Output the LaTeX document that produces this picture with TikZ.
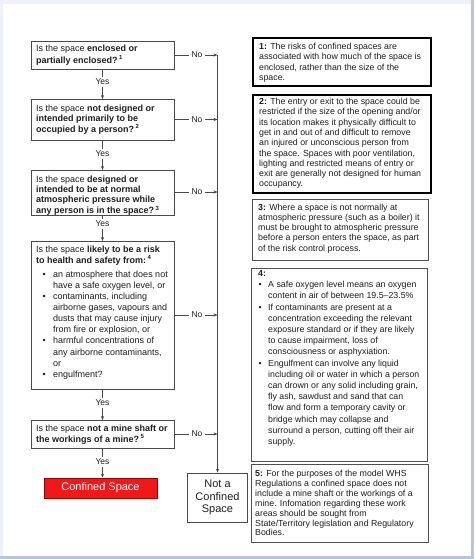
\documentclass[tikz,border=0pt]{standalone}
\usepackage{fontspec}
\setmainfont{Liberation Sans}
\usetikzlibrary{arrows.meta}
\definecolor{boxline}{HTML}{4A4A4A}
\definecolor{txt}{HTML}{1E1E1E}
\definecolor{redfill}{HTML}{F01818}
\definecolor{redline}{HTML}{9A0000}
\definecolor{topband}{HTML}{EEF1F7}
\definecolor{sideband}{HTML}{B4C6E6}
\definecolor{notegray}{HTML}{505050}
\newcommand{\qb}[1]{\textbf{#1}}
\newcommand{\bulq}{\makebox[17pt][l]{\hspace{6.5pt}\textbullet}}
\newcommand{\contq}{\hspace*{17pt}}
\newcommand{\buln}{\makebox[10pt][l]{\hspace{0.5pt}\textbullet}}
\newcommand{\contn}{\hspace*{10pt}}
\newcommand{\supn}[1]{\,\textsuperscript{\textbf{#1}}}
\begin{document}
\begin{tikzpicture}[x=1pt,y=-1pt,
  qbox/.style={draw=boxline,line width=0.8pt,inner sep=0pt,outer sep=0pt,minimum width=143pt},
  qtext/.style={anchor=base west,inner sep=0pt,text=txt,font=\fontsize{9}{10.4}\selectfont},
  nbox/.style={draw=black,line width=1.2pt,inner sep=0pt,outer sep=0pt},
  nboxb/.style={draw=notegray,line width=0.9pt,inner sep=0pt,outer sep=0pt},
  ntext/.style={anchor=base west,inner sep=0pt,text=txt,font=\fontsize{8.8}{10.3}\selectfont},
  lab/.style={inner sep=2pt,text=txt,font=\fontsize{8.5}{10}\selectfont},
  conn/.style={draw=boxline,line width=0.7pt},
  arr/.style={conn,-{Stealth[length=4pt,width=3.2pt]}},
  redbox/.style={draw=redline,line width=0.8pt,fill=redfill,text=white,inner sep=0pt,
    minimum width=113pt,minimum height=20pt,font=\fontsize{11}{13}\selectfont},
  ncbox/.style={draw=boxline,line width=0.8pt,inner sep=0pt,minimum width=60pt,minimum height=49pt,
    align=center,text=txt,font=\fontsize{11}{12.7}\selectfont}
]
\useasboundingbox (0,0) rectangle (474,559);
\fill[white] (0,0) rectangle (474,559);
\fill[topband] (0,0) rectangle (474,4);
\fill[topband] (0,0) rectangle (3,559);
\fill[sideband] (470.5,0) rectangle (474,559);
\fill[sideband] (0,556) rectangle (474,559);

% question boxes
\node[qbox,minimum height=28pt] (q1) at (102.5,55) {};
\node[qbox,minimum height=41pt] (q2) at (102.5,119.5) {};
\node[qbox,minimum height=45pt] (q3) at (102.5,192.5) {};
\node[qbox,minimum height=148pt] (q4) at (102.5,315) {};
\node[qbox,minimum height=28pt] (q5) at (102.5,434) {};

\node[qtext] (t1) at (36,52) {\begin{tabular}[t]{@{}l@{}}Is the space \qb{enclosed or}\\ \qb{partially enclosed?}\supn{1}\end{tabular}};
\node[qtext] (t2) at (36,111) {\begin{tabular}[t]{@{}l@{}}Is the space \qb{not designed or}\\ \qb{intended primarily to be}\\ \qb{occupied by a person?}\supn{2}\end{tabular}};
\node[qtext] (t3) at (36,182) {\begin{tabular}[t]{@{}l@{}}Is the space \qb{designed or}\\ \qb{intended to be at normal}\\ \qb{atmospheric pressure while}\\ \qb{any person is in the space?}\supn{3}\end{tabular}};
\node[qtext,font=\fontsize{9}{11.1}\selectfont] (t4) at (36,252) {\begin{tabular}[t]{@{}l@{}}Is the space \qb{likely to be a risk}\\ \qb{to health and safety from:}\supn{4}\\[3pt]
\bulq an atmosphere that does not\\ \contq have a safe oxygen level, or\\
\bulq contaminants, including\\ \contq airborne gases, vapours and\\ \contq dusts that may cause injury\\ \contq from fire or explosion, or\\
\bulq harmful concentrations of\\ \contq any airborne contaminants,\\ \contq or\\
\bulq engulfment?\end{tabular}};
\node[qtext] (t5) at (36,431) {\begin{tabular}[t]{@{}l@{}}Is the space \qb{not a mine shaft or}\\ \qb{the workings of a mine?}\supn{5}\end{tabular}};

% outcomes
\node[redbox] (cs) at (100.5,488) {Confined Space};
\node[ncbox] (nc) at (217.5,497.5) {Not a\\Confined\\Space};

% Yes labels and arrows
\node[lab] (y1) at (102.5,82) {Yes};
\node[lab] (y2) at (102.5,154) {Yes};
\node[lab] (y3) at (102.5,224) {Yes};
\node[lab] (y4) at (102.5,403) {Yes};
\node[lab] (y5) at (102.5,462) {Yes};
\draw[conn] (q1.south) -- (y1.north);
\draw[arr] (y1.south) -- (q2.north);
\draw[conn] (q2.south) -- (y2.north);
\draw[arr] (y2.south) -- (q3.north);
\draw[conn] (q3.south) -- (y3.north);
\draw[arr] (y3.south) -- (q4.north);
\draw[conn] (q4.south) -- (y4.north);
\draw[arr] (y4.south) -- (q5.north);
\draw[conn] (q5.south) -- (y5.north);
\draw[arr] (y5.south) -- (y5.south |- cs.north);

% No labels and arrows
\node[lab] (n1) at (197,55) {No};
\node[lab] (n2) at (197,119.5) {No};
\node[lab] (n3) at (197,192) {No};
\node[lab] (n4) at (197,315) {No};
\node[lab] (n5) at (197,434) {No};
\draw[conn] (q1.east) -- (n1.west);
\draw[conn] (q2.east) -- (n2.west);
\draw[conn] (q3.east |- n3) -- (n3.west);
\draw[conn] (q4.east) -- (n4.west);
\draw[conn] (q5.east) -- (n5.west);
\draw[arr] (n1.east) -- (n1.east -| nc.north);
\draw[arr] (n2.east) -- (n2.east -| nc.north);
\draw[arr] (n3.east) -- (n3.east -| nc.north);
\draw[arr] (n4.east) -- (n4.east -| nc.north);
\draw[arr] (n5.east) -- (n5.east -| nc.north);
\draw[arr] (n1.east -| nc.north) -- (nc.north);

% note boxes
\node[nbox,minimum width=178pt,minimum height=48pt] (m1) at (342,62) {};
\node[nbox,minimum width=178pt,minimum height=98pt] (m2) at (342,144) {};
\node[nboxb,minimum width=176pt,minimum height=61pt] (m3) at (340,229.5) {};
\node[nboxb,minimum width=176pt,minimum height=193pt] (m4) at (339,364.5) {};
\node[nboxb,minimum width=177pt,minimum height=78pt] (m5) at (339.5,503) {};

\node[ntext] (s1) at (259,49.5) {\begin{tabular}[t]{@{}l@{}}\textbf{1:} The risks of confined spaces are\\ associated with how much of the space is\\ enclosed, rather than the size of the\\ space.\end{tabular}};
\node[ntext] (s2) at (259,104.5) {\begin{tabular}[t]{@{}l@{}}\textbf{2:} The entry or exit to the space could be\\ restricted if the size of the opening and/or\\ its location makes it physically difficult to\\ get in and out of and difficult to remove\\ an injured or unconscious person from\\ the space. Spaces with poor ventilation,\\ lighting and restricted means of entry or\\ exit are generally not designed for human\\ occupancy.\end{tabular}};
\node[ntext] (s3) at (258,210) {\begin{tabular}[t]{@{}l@{}}\textbf{3:} Where a space is not normally at\\ atmospheric pressure (such as a boiler) it\\ must be brought to atmospheric pressure\\ before a person enters the space, as part\\ of the risk control process.\end{tabular}};
\node[ntext,font=\fontsize{8.8}{11.2}\selectfont] (s4) at (258,276.5) {\begin{tabular}[t]{@{}l@{}}\textbf{4:}\\
\buln A safe oxygen level means an oxygen\\ \contn content in air of between 19.5--23.5\%\\
\buln If contaminants are present at a\\ \contn concentration exceeding the relevant\\ \contn exposure standard or if they are likely\\ \contn to cause impairment, loss of\\ \contn consciousness or asphyxiation.\\
\buln Engulfment can involve any liquid\\ \contn including oil or water in which a person\\ \contn can drown or any solid including grain,\\ \contn fly ash, sawdust and sand that can\\ \contn flow and form a temporary cavity or\\ \contn bridge which may collapse and\\ \contn surround a person, cutting off their air\\ \contn supply.\end{tabular}};
\node[ntext,font=\fontsize{8.8}{9.9}\selectfont] (s5) at (255,476.5) {\begin{tabular}[t]{@{}l@{}}\textbf{5:} For the purposes of the model WHS\\ Regulations a confined space does not\\ include a mine shaft or the workings of a\\ mine. Infomation regarding these work\\ areas should be sought from\\ State/Territory legislation and Regulatory\\ Bodies.\end{tabular}};
\end{tikzpicture}
\end{document}
